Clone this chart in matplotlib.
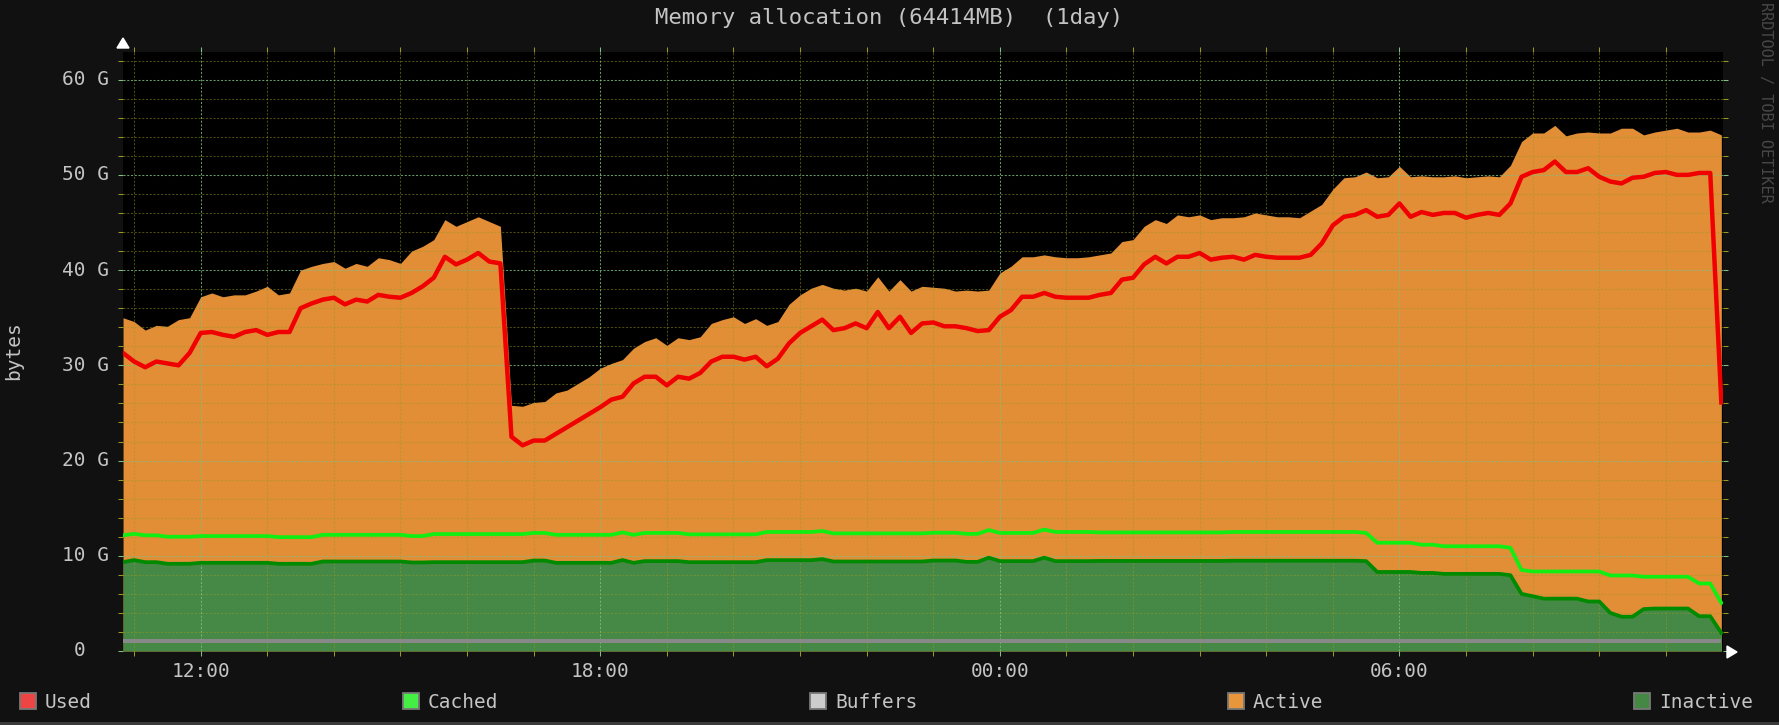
import numpy as np
import pandas as pd
import matplotlib
matplotlib.use("Agg")
import matplotlib.pyplot as plt
import matplotlib.dates as mdates
import matplotlib.transforms as mtransforms
from matplotlib.patches import Rectangle, Polygon
from matplotlib.ticker import FixedLocator, MultipleLocator, NullFormatter

# ---------------- data ----------------
TITLE = "Memory allocation (64414MB)  (1day)"
Y_LABEL = "bytes"
WATERMARK = "RRDTOOL / TOBI OETIKER"
START = "2024-01-01 10:50"
STEP = "10min"
Y_MAX_G = 64414 / 1024.0

Y_TICKS = [0, 10, 20, 30, 40, 50, 60]
Y_TICK_LABELS = ["0", "10 G", "20 G", "30 G", "40 G", "50 G", "60 G"]
X_MAJOR_HOURS = [0, 6, 12, 18]

LEGEND_LABELS = ["Used", "Cached", "Buffers", "Active", "Inactive"]
LEGEND_COLORS = ["#ee4444", "#44ee44", "#cccccc", "#e8963c", "#448844"]

# top of the orange (Active) area, in G
ACTIVE = [
    35.0, 34.6, 33.7, 34.2, 34.1, 34.8, 35.0, 37.2, 37.6, 37.2,
    37.4, 37.4, 37.8, 38.3, 37.4, 37.6, 40.0, 40.4, 40.7, 40.9,
    40.2, 40.7, 40.4, 41.3, 41.1, 40.7, 42.0, 42.5, 43.2, 45.3,
    44.6, 45.1, 45.6, 45.1, 44.6, 25.8, 25.7, 26.1, 26.2, 27.1,
    27.4, 28.1, 28.8, 29.7, 30.2, 30.6, 31.8, 32.5, 32.9, 32.1,
    32.9, 32.7, 33.0, 34.4, 34.8, 35.1, 34.4, 34.9, 34.2, 34.6,
    36.4, 37.4, 38.1, 38.5, 38.1, 37.9, 38.1, 37.8, 39.3, 37.8,
    39.0, 37.8, 38.3, 38.2, 38.1, 37.8, 37.9, 37.8, 37.9, 39.7,
    40.4, 41.4, 41.4, 41.6, 41.4, 41.3, 41.3, 41.4, 41.6, 41.8,
    43.0, 43.2, 44.6, 45.3, 44.9, 45.8, 45.6, 45.8, 45.3, 45.5,
    45.5, 45.6, 46.0, 45.8, 45.6, 45.6, 45.5, 46.2, 46.9, 48.5,
    49.7, 49.8, 50.3, 49.7, 49.8, 50.9, 49.8, 49.9, 49.8, 49.8,
    49.9, 49.7, 49.8, 49.9, 49.8, 51.0, 53.5, 54.4, 54.4, 55.2,
    54.1, 54.4, 54.5, 54.4, 54.4, 54.9, 54.9, 54.2, 54.5, 54.7,
    54.9, 54.5, 54.5, 54.7, 54.2,
]

USED = [
    31.3, 30.4, 29.8, 30.4, 30.2, 30.0, 31.3, 33.4, 33.5, 33.2,
    33.0, 33.5, 33.7, 33.2, 33.5, 33.5, 36.0, 36.5, 36.9, 37.1,
    36.4, 36.9, 36.7, 37.4, 37.2, 37.1, 37.6, 38.3, 39.2, 41.4,
    40.6, 41.1, 41.8, 40.9, 40.7, 22.5, 21.6, 22.1, 22.1, 22.8,
    23.5, 24.2, 24.9, 25.6, 26.4, 26.7, 28.1, 28.8, 28.8, 27.9,
    28.8, 28.6, 29.2, 30.4, 30.9, 30.9, 30.6, 30.9, 29.9, 30.7,
    32.3, 33.4, 34.1, 34.8, 33.7, 33.9, 34.4, 33.9, 35.6, 33.9,
    35.1, 33.4, 34.4, 34.5, 34.1, 34.1, 33.9, 33.6, 33.7, 35.1,
    35.8, 37.2, 37.2, 37.6, 37.2, 37.1, 37.1, 37.1, 37.4, 37.6,
    39.0, 39.2, 40.6, 41.4, 40.7, 41.4, 41.4, 41.8, 41.1, 41.3,
    41.4, 41.1, 41.6, 41.4, 41.3, 41.3, 41.3, 41.6, 42.8, 44.7,
    45.6, 45.8, 46.3, 45.6, 45.8, 47.0, 45.6, 46.1, 45.8, 46.0,
    46.0, 45.5, 45.8, 46.0, 45.8, 47.0, 49.8, 50.3, 50.5, 51.4,
    50.3, 50.3, 50.7, 49.8, 49.3, 49.1, 49.7, 49.8, 50.2, 50.3,
    50.0, 50.0, 50.2, 50.2, 26.1,
]

CACHED = [
    12.15, 12.30, 12.15, 12.15, 12.00, 12.00, 12.00, 12.07, 12.07, 12.07,
    12.08, 12.07, 12.07, 12.07, 11.96, 11.96, 11.96, 11.96, 12.20, 12.20,
    12.20, 12.20, 12.21, 12.20, 12.20, 12.20, 12.07, 12.07, 12.28, 12.28,
    12.28, 12.28, 12.29, 12.28, 12.28, 12.28, 12.28, 12.40, 12.40, 12.20,
    12.20, 12.20, 12.20, 12.20, 12.20, 12.45, 12.20, 12.40, 12.40, 12.40,
    12.40, 12.25, 12.25, 12.25, 12.25, 12.26, 12.25, 12.25, 12.50, 12.50,
    12.50, 12.50, 12.50, 12.60, 12.35, 12.35, 12.35, 12.35, 12.36, 12.35,
    12.35, 12.35, 12.35, 12.42, 12.42, 12.42, 12.30, 12.30, 12.70, 12.40,
    12.40, 12.40, 12.40, 12.75, 12.50, 12.50, 12.50, 12.50, 12.45, 12.45,
    12.45, 12.45, 12.46, 12.45, 12.45, 12.45, 12.46, 12.45, 12.45, 12.45,
    12.50, 12.50, 12.50, 12.50, 12.51, 12.50, 12.50, 12.50, 12.51, 12.50,
    12.50, 12.50, 12.40, 11.37, 11.37, 11.37, 11.37, 11.16, 11.16, 11.00,
    11.00, 11.00, 11.00, 11.00, 11.00, 10.84, 8.50, 8.35, 8.35, 8.35,
    8.35, 8.36, 8.35, 8.35, 7.93, 7.93, 7.93, 7.80, 7.80, 7.80,
    7.80, 7.80, 7.09, 7.09, 5.05,
]

INACTIVE = [
    9.33, 9.55, 9.33, 9.33, 9.16, 9.16, 9.16, 9.26, 9.26, 9.26,
    9.27, 9.26, 9.26, 9.26, 9.16, 9.16, 9.16, 9.16, 9.40, 9.40,
    9.40, 9.40, 9.41, 9.40, 9.40, 9.40, 9.30, 9.30, 9.33, 9.33,
    9.33, 9.33, 9.34, 9.33, 9.33, 9.33, 9.33, 9.50, 9.50, 9.26,
    9.26, 9.26, 9.26, 9.26, 9.26, 9.55, 9.26, 9.44, 9.44, 9.44,
    9.44, 9.33, 9.33, 9.33, 9.33, 9.34, 9.33, 9.33, 9.54, 9.54,
    9.54, 9.54, 9.54, 9.65, 9.40, 9.40, 9.40, 9.40, 9.41, 9.40,
    9.40, 9.40, 9.40, 9.50, 9.50, 9.50, 9.36, 9.36, 9.80, 9.44,
    9.44, 9.44, 9.44, 9.80, 9.44, 9.44, 9.44, 9.44, 9.46, 9.46,
    9.46, 9.46, 9.47, 9.46, 9.46, 9.46, 9.47, 9.46, 9.46, 9.46,
    9.48, 9.48, 9.48, 9.48, 9.49, 9.48, 9.48, 9.48, 9.49, 9.48,
    9.48, 9.48, 9.44, 8.30, 8.30, 8.30, 8.30, 8.20, 8.20, 8.10,
    8.10, 8.10, 8.10, 8.10, 8.10, 7.96, 6.00, 5.75, 5.50, 5.50,
    5.50, 5.50, 5.20, 5.20, 4.00, 3.60, 3.60, 4.40, 4.46, 4.46,
    4.46, 4.46, 3.65, 3.65, 1.90,
]

BUFFERS = 1.05

# ---------------- style ----------------
W, H, DPI = 1779, 725, 100
BG = "#111111"
TXT = "#c4c4c4"
ORANGE = "#e18e37"
GREEN_FILL = "#468846"
GREEN_LINE = "#008a00"
LIME = "#11ee11"
RED = "#f00000"
GRAY = "#888888"
MAJOR_GRID = "#80c080"
MINOR_GRID = "#9a9a22"
FONT = "DejaVu Sans Mono"

plt.rcParams["font.family"] = [FONT, "DejaVu Sans"]

def fx(px):
    return px / W

def fy(py):
    return 1 - py / H

times = pd.date_range(START, periods=len(ACTIVE), freq=STEP)

fig = plt.figure(figsize=(W / DPI, H / DPI), dpi=DPI, facecolor=BG)
ax_l, ax_r, ax_t, ax_b = 123, 1723, 52, 651
ax = fig.add_axes([fx(ax_l), fy(ax_b), (ax_r - ax_l) / W, (ax_b - ax_t) / H])
ax.set_facecolor("black")
for s in ax.spines.values():
    s.set_visible(False)

ax.fill_between(times, 0, ACTIVE, color=ORANGE, lw=0, zorder=1)
ax.fill_between(times, 0, INACTIVE, color=GREEN_FILL, lw=0, zorder=1.5)
ax.plot(times, INACTIVE, color=GREEN_LINE, lw=2.7, zorder=4, solid_joinstyle="round")
ax.plot(times, CACHED, color=LIME, lw=2.7, zorder=4.2, solid_joinstyle="round")
ax.hlines(BUFFERS, times[0], times[-1], color=GRAY, lw=2.9, zorder=4.4)
ax.plot(times, USED, color=RED, lw=3.2, zorder=5, solid_joinstyle="round")

ax.set_ylim(0, Y_MAX_G)
ax.set_xlim(times[0], times[-1] + pd.Timedelta(minutes=1.5))

ax.yaxis.set_major_locator(FixedLocator(Y_TICKS))
ax.yaxis.set_minor_locator(MultipleLocator(2))
ax.yaxis.set_major_formatter(NullFormatter())
ax.xaxis.set_major_locator(mdates.HourLocator(byhour=X_MAJOR_HOURS))
ax.xaxis.set_minor_locator(mdates.HourLocator())
ax.xaxis.set_major_formatter(mdates.DateFormatter("%H:%M"))

ax.set_axisbelow(False)
dash = (0, (2, 1.6))
ax.grid(which="major", color=MAJOR_GRID, alpha=0.8, linestyle=dash, lw=0.75)
ax.grid(which="minor", color=MINOR_GRID, alpha=0.5, linestyle=dash, lw=0.75)

ax.tick_params(which="both", direction="out", length=3.6, width=0.75,
               top=True, right=True, left=True, bottom=True,
               labeltop=False, labelright=False)
ax.tick_params(which="major", color=MAJOR_GRID, labelcolor=TXT,
               labelsize=14, pad=4)
ax.tick_params(which="minor", color=MINOR_GRID)
for lab in ax.get_xticklabels():
    lab.set_fontfamily(FONT)

# y tick labels drawn manually (right aligned, unit-less labels keep unit slot)
char_w = 11.75
trans = mtransforms.blended_transform_factory(fig.transFigure, ax.transData)
for v, lab in zip(Y_TICKS, Y_TICK_LABELS):
    right = 109 if lab.endswith("G") else 109 - 2 * char_w
    ax.text(fx(right), v, lab, transform=trans, ha="right", va="center",
            fontsize=14, color=TXT, family=FONT, clip_on=False)

# title, y label, watermark
fig.text(0.5, fy(18), TITLE, ha="center", va="center", fontsize=16,
         color=TXT, family=FONT)
fig.text(fx(14), fy(351), Y_LABEL, ha="center", va="center", rotation=90,
         fontsize=14, color=TXT, family=FONT)
fig.text(fx(1765), fy(2), WATERMARK, ha="center", va="top", rotation=270,
         fontsize=11, color="#474747", family=FONT)

# axis arrows
fig.add_artist(Polygon([(fx(123), fy(38)), (fx(117), fy(48)), (fx(129), fy(48))],
                       closed=True, color="white", transform=fig.transFigure))
fig.add_artist(Polygon([(fx(1737), fy(652)), (fx(1727), fy(646)), (fx(1727), fy(658))],
                       closed=True, color="white", transform=fig.transFigure))

# legend
legend_x = [20, 403, 810, 1228, 1634]
for x0, lab, col in zip(legend_x, LEGEND_LABELS, LEGEND_COLORS):
    fig.add_artist(Rectangle((fx(x0), fy(709)), 16 / W, 16 / H, facecolor=col,
                             edgecolor="#777777", lw=1.3, transform=fig.transFigure))
    fig.text(fx(x0 + 25), fy(702), lab, ha="left", va="center", fontsize=14,
             color=TXT, family=FONT)

# bottom strip
fig.add_artist(Rectangle((0, 0), 1, 3 / H, facecolor="#3a3a3a", lw=0,
                         transform=fig.transFigure))

fig.savefig("out.png", dpi=DPI, facecolor=BG)
